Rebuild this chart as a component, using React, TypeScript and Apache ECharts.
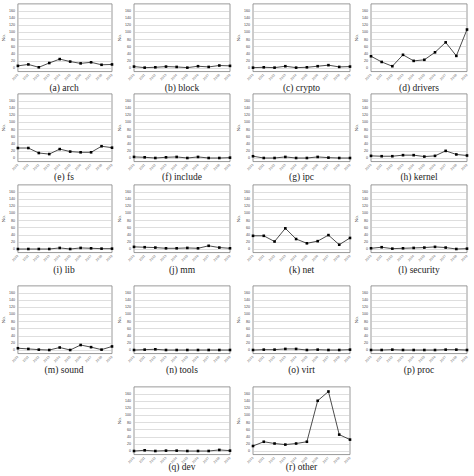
import { useEffect, useRef } from "react";
import * as echarts from "echarts";

const YEARS = ["2010", "2011", "2012", "2013", "2014", "2015", "2016", "2017", "2018", "2019"];
const Y_TICKS = [0, 20, 40, 60, 80, 100, 120, 140, 160];

const arch = [6, 10, 2, 14, 25, 18, 13, 16, 9, 10];
const block = [4, 1, 2, 4, 3, 1, 5, 3, 7, 6];
const crypto = [1, 2, 1, 5, 1, 2, 5, 8, 3, 4];
const drivers = [33, 17, 5, 37, 20, 23, 44, 72, 34, 108];
const fs = [28, 28, 14, 11, 25, 18, 16, 16, 33, 29];
const include = [3, 2, 0, 2, 3, 0, 3, 0, 0, 1];
const ipc = [5, 0, 0, 3, 0, 0, 3, 1, 0, 0];
const kernel = [6, 5, 5, 8, 8, 4, 6, 20, 10, 7];
const lib = [0, 0, 0, 0, 3, 0, 3, 2, 1, 1];
const mm = [6, 5, 4, 2, 2, 3, 2, 9, 4, 2];
const net = [37, 37, 21, 58, 28, 16, 22, 39, 12, 31];
const security = [2, 5, 1, 2, 3, 4, 6, 4, 0, 1];
const sound = [5, 3, 1, 0, 7, 0, 14, 8, 1, 10];
const tools = [0, 1, 2, 0, 0, 0, 0, 0, 0, 0];
const virt = [0, 1, 1, 3, 3, 0, 1, 0, 0, 1];
const proc = [0, 0, 1, 0, 0, 0, 0, 1, 1, 0];
const dev = [0, 2, 0, 1, 1, 0, 0, 0, 3, 1];
const other = [14, 26, 21, 18, 21, 26, 141, 167, 46, 32];

const PANELS: [string, number[]][] = [
  ["(a) arch", arch],
  ["(b) block", block],
  ["(c) crypto", crypto],
  ["(d) drivers", drivers],
  ["(e) fs", fs],
  ["(f) include", include],
  ["(g) ipc", ipc],
  ["(h) kernel", kernel],
  ["(i) lib", lib],
  ["(j) mm", mm],
  ["(k) net", net],
  ["(l) security", security],
  ["(m) sound", sound],
  ["(n) tools", tools],
  ["(o) virt", virt],
  ["(p) proc", proc],
  ["(q) dev", dev],
  ["(r) other", other],
];

// layout in px: zero line of each row, caption centre, column boxes
const ROW_ZERO = [68, 158, 249, 350, 451];
const ROW_CAPTION = [88, 177, 270, 370, 467];
const COL_LEFT = [16, 134, 253, 371];
const COL_WIDTH = [96, 96, 97, 96];
const PX_PER_UNIT = 57 / 160;
const Y_MIN = -10;
const Y_MAX = 180;

function cellOf(i: number): [number, number] {
  if (i < 16) return [Math.floor(i / 4), i % 4];
  return [4, i - 16 + 1];
}

function buildOption(): echarts.EChartsCoreOption {
  const grid: object[] = [];
  const xAxis: object[] = [];
  const yAxis: object[] = [];
  const series: object[] = [];
  const graphic: object[] = [];

  PANELS.forEach(([caption, values], i) => {
    const [row, col] = cellOf(i);
    const top = ROW_ZERO[row] - Y_MAX * PX_PER_UNIT;
    const height = (Y_MAX - Y_MIN) * PX_PER_UNIT;
    grid.push({
      left: COL_LEFT[col],
      top,
      width: COL_WIDTH[col],
      height,
      show: true,
      borderColor: "#808080",
      borderWidth: 0.8,
      backgroundColor: "#fff",
    });
    xAxis.push({
      type: "category",
      gridIndex: i,
      data: YEARS,
      boundaryGap: false,
      axisLine: { show: false, onZero: false },
      axisTick: { show: false },
      splitLine: { show: false },
      axisLabel: {
        rotate: 45,
        fontSize: 3.3,
        color: "#555",
        margin: 3,
        interval: 0,
        fontFamily: "Liberation Sans",
      },
    });
    yAxis.push({
      type: "value",
      gridIndex: i,
      min: Y_MIN,
      max: Y_MAX,
      interval: 10,
      name: "No.",
      nameLocation: "middle",
      nameGap: 9,
      nameTextStyle: { fontSize: 4, color: "#444", fontFamily: "DejaVu Serif" },
      axisLine: { show: false },
      axisTick: { show: false },
      splitLine: { show: false },
      axisLabel: {
        fontSize: 3.6,
        color: "#444",
        margin: 3,
        fontFamily: "Liberation Sans",
        formatter: (v: number) => (Y_TICKS.includes(v) ? String(v) : ""),
      },
    });
    series.push({
      type: "line",
      xAxisIndex: i,
      yAxisIndex: i,
      data: values,
      symbol: "rect",
      symbolSize: 2.6,
      itemStyle: { color: "#000" },
      lineStyle: { color: "#000", width: 0.7 },
      markLine: {
        silent: true,
        symbol: "none",
        label: { show: false },
        lineStyle: { color: "#c8c8c8", width: 0.6, type: "solid" },
        data: Y_TICKS.map((v) => ({ yAxis: v })),
        z: 1,
      },
      z: 3,
    });
    graphic.push({
      type: "text",
      x: COL_LEFT[col] + COL_WIDTH[col] / 2,
      y: ROW_CAPTION[row],
      style: {
        text: caption,
        fill: "#222",
        font: '9.5px "Liberation Serif"',
        textAlign: "center",
        textVerticalAlign: "middle",
      },
    });
  });

  return { animation: false, grid, xAxis, yAxis, series, graphic };
}

export default function App() {
  const ref = useRef<HTMLDivElement | null>(null);

  useEffect(() => {
    const el = ref.current;
    if (!el) return;
    const chart = echarts.init(el, undefined, { renderer: "svg" });
    chart.setOption(buildOption());
    return () => {
      chart.dispose();
    };
  }, []);

  return (
    <div
      ref={ref}
      style={{ position: "fixed", left: 0, top: 0, width: 474, height: 476, background: "#fff" }}
    />
  );
}
